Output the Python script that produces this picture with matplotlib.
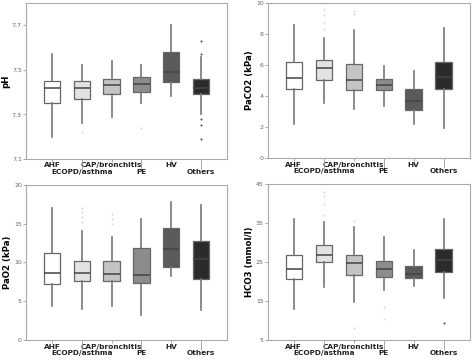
import matplotlib
matplotlib.use("Agg")
import matplotlib.pyplot as plt
from matplotlib.ticker import FuncFormatter

groups = ["AHF", "ECOPD/asthma", "CAP/bronchitis", "PE", "HV", "Others"]
box_colors = ["#ffffff", "#e2e2e2", "#c4c4c4", "#8c8c8c", "#5a5a5a", "#2b2b2b"]

# pH
ph_whislo = [7.20, 7.26, 7.29, 7.35, 7.38, 7.30]
ph_q1 = [7.35, 7.37, 7.39, 7.40, 7.445, 7.39]
ph_med = [7.42, 7.42, 7.433, 7.436, 7.488, 7.42]
ph_q3 = [7.45, 7.45, 7.46, 7.466, 7.58, 7.46]
ph_whishi = [7.57, 7.52, 7.54, 7.52, 7.70, 7.555]
ph_fliers = [[], [], [], [], [], [7.63, 7.57, 7.28, 7.25, 7.19]]
ph_faint = [[], [7.22], [], [7.24], [], []]

# PaCO2 (kPa)
co2_whislo = [2.22, 3.54, 3.17, 3.33, 2.22, 1.94]
co2_q1 = [4.43, 5.03, 4.36, 4.38, 3.13, 4.43]
co2_med = [5.14, 5.81, 5.01, 4.69, 3.71, 5.23]
co2_q3 = [6.16, 6.35, 6.05, 5.08, 4.45, 6.16]
co2_whishi = [8.57, 7.73, 8.25, 5.92, 5.62, 8.36]
co2_fliers = [[], [], [], [], [], []]
co2_faint = [[], [8.3, 8.7, 9.2, 9.6, 10.0], [9.3, 9.5], [], [], []]

# PaO2 (kPa)
o2_whislo = [4.41, 4.03, 4.33, 3.17, 8.27, 3.90]
o2_q1 = [7.24, 7.58, 7.58, 7.37, 9.42, 7.88]
o2_med = [8.69, 8.65, 8.48, 8.40, 11.70, 10.50]
o2_q3 = [11.18, 10.15, 10.15, 11.82, 14.50, 12.80]
o2_whishi = [17.0, 14.1, 13.3, 15.6, 17.8, 17.4]
o2_fliers = [[], [], [], [], [], []]
o2_faint = [[], [15.2, 15.9, 16.5, 17.0], [15.0, 15.6, 16.2], [], [], []]

# HCO3 (mmol/l)
hco3_whislo = [13.0, 18.5, 14.7, 17.9, 18.9, 15.7]
hco3_q1 = [20.6, 25.0, 21.7, 21.2, 20.8, 22.4]
hco3_med = [23.3, 26.7, 24.7, 23.1, 21.9, 25.5]
hco3_q3 = [26.8, 29.5, 26.8, 25.3, 24.1, 28.4]
hco3_whishi = [36.0, 35.3, 33.9, 31.5, 28.2, 36.1]
hco3_fliers = [[], [], [], [], [], [9.5]]
hco3_faint = [[], [37.0, 40.0, 42.0, 43.0], [35.5, 8.0], [13.5, 10.5], [], []]

positions = list(range(1, len(groups) + 1))


def draw_panel(ax, whislo, q1, med, q3, whishi, fliers, faint, ylabel, ylim, yticks, fmt=None):
    stats = []
    for i in range(len(groups)):
        stats.append({"whislo": whislo[i], "q1": q1[i], "med": med[i],
                      "q3": q3[i], "whishi": whishi[i], "fliers": fliers[i]})
    parts = ax.bxp(stats, positions=positions, widths=0.55, patch_artist=True,
                   showcaps=False,
                   boxprops=dict(edgecolor="#666666", linewidth=0.9),
                   whiskerprops=dict(color="#777777", linewidth=1.2),
                   medianprops=dict(color="#444444", linewidth=1.1),
                   flierprops=dict(marker="o", markersize=1.1, markerfacecolor="#555555",
                                   markeredgecolor="#555555", markeredgewidth=0.3))
    for patch, c in zip(parts["boxes"], box_colors):
        patch.set_facecolor(c)
    for p, vals in zip(positions, faint):
        if vals:
            ax.plot([p] * len(vals), vals, "o", ms=1.1, mew=0.3, color="#dcdcdc", zorder=1)

    ax.set_xlim(0.13, 6.87)
    ax.set_ylim(*ylim)
    ax.set_yticks(yticks)
    if fmt:
        ax.yaxis.set_major_formatter(FuncFormatter(fmt))
    ax.tick_params(axis="y", labelsize=4.5, labelcolor="#666666", color="#999999",
                   length=2, width=0.6, pad=1)

    # alternating two-row category labels
    ax.set_xticks(positions[0::2])
    ax.set_xticklabels(groups[0::2])
    ax.set_xticks(positions[1::2], minor=True)
    ax.set_xticklabels(groups[1::2], minor=True)
    ax.tick_params(axis="x", which="major", length=2, width=0.6, color="#999999",
                   pad=0.5, labelsize=5.3)
    ax.tick_params(axis="x", which="minor", length=7, width=0.6, color="#999999",
                   pad=0.3, labelsize=5.3)
    for lab in ax.get_xticklabels() + ax.get_xticklabels(minor=True):
        lab.set_fontweight("bold")
        lab.set_color("#222222")

    for s in ax.spines.values():
        s.set_color("#aaaaaa")
        s.set_linewidth(0.8)
    ax.set_ylabel(ylabel, fontsize=6.2, fontweight="bold", labelpad=1.5)


fig = plt.figure(figsize=(4.74, 3.61), dpi=100)
ax1 = fig.add_axes([0.055, 0.56, 0.424, 0.432])
ax2 = fig.add_axes([0.565, 0.562, 0.426, 0.43])
ax3 = fig.add_axes([0.055, 0.058, 0.424, 0.43])
ax4 = fig.add_axes([0.565, 0.058, 0.426, 0.432])

comma = lambda v, p: f"{v:.1f}".replace(".", ",")
draw_panel(ax1, ph_whislo, ph_q1, ph_med, ph_q3, ph_whishi, ph_fliers, ph_faint,
           "pH", (7.1, 7.8), [7.1, 7.3, 7.5, 7.7], comma)
draw_panel(ax2, co2_whislo, co2_q1, co2_med, co2_q3, co2_whishi, co2_fliers, co2_faint,
           "PaCO2 (kPa)", (0, 10), [0, 2, 4, 6, 8, 10])
draw_panel(ax3, o2_whislo, o2_q1, o2_med, o2_q3, o2_whishi, o2_fliers, o2_faint,
           "PaO2 (kPa)", (0, 20), [0, 5, 10, 15, 20])
draw_panel(ax4, hco3_whislo, hco3_q1, hco3_med, hco3_q3, hco3_whishi, hco3_fliers, hco3_faint,
           "HCO3 (mmol/l)", (5, 45), [5, 15, 25, 35, 45])

fig.savefig("out.png", dpi=100)
